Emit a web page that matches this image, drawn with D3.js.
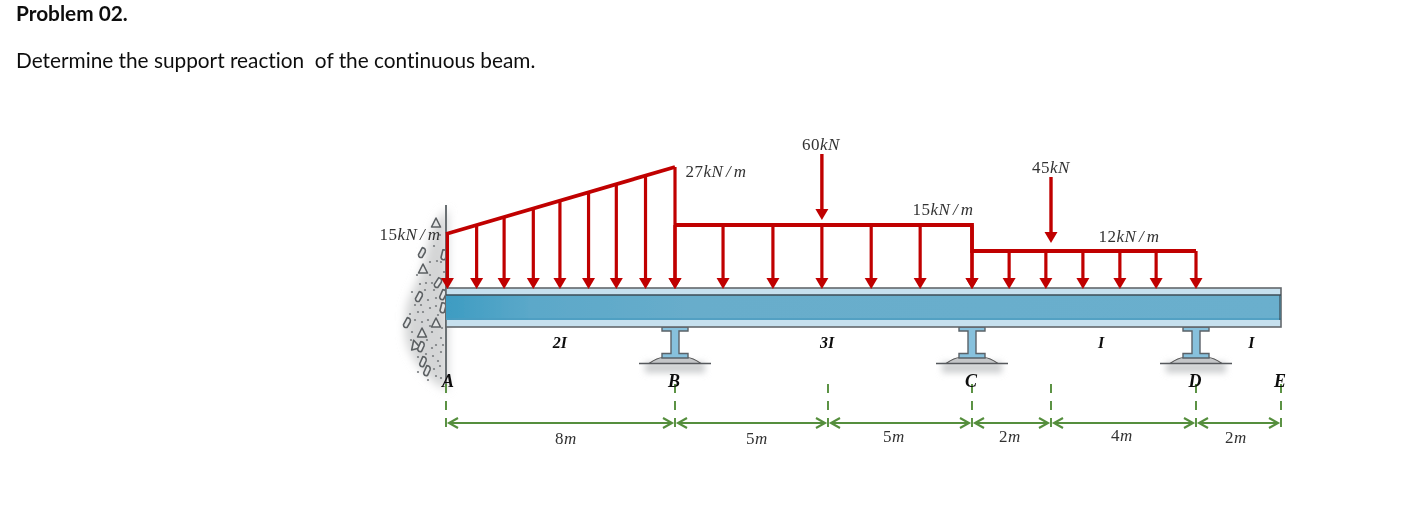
<!DOCTYPE html>
<html>
<head>
<meta charset="utf-8">
<script src="https://cdn.jsdelivr.net/npm/d3@7"></script>
<style>
	html, body { margin: 0; padding: 0; background: #fff; }
	svg { display: block; }
	.head { font-family: Lato, "Open Sans", sans-serif; fill: #111; font-variant-ligatures: none; }
	.math { font-family: "Liberation Serif", "DejaVu Serif", serif; fill: #333; font-size: 17px; letter-spacing: 0.5px; }
	.math .it { font-style: italic; }
	.sec { font-family: "Liberation Serif", serif; font-weight: bold; font-style: italic; fill: #111; font-size: 16px; }
	.sup { font-size: 18px; }
</style>
</head>
<body>
<script>
//Continuous beam diagram

	//stations along the beam, in metres
	var stations = [0, 8, 13, 18, 20, 24, 26];
	var spanLabels = ["8m", "5m", "5m", "2m", "4m", "2m"];

	//supports and free end
	var supportNames = ["A", "B", "C", "D", "E"];
	var supportAt = [0, 8, 18, 24, 26];
	var bearingAt = [8, 18, 24];

	//second moment of area per span
	var sectionLabels = ["2I", "3I", "I", "I"];
	var sectionAt = [3.98, 12.97, 21.38, 25.3];

	//distributed loads, kN/m
	var rampLoad = [15, 27];
	var rampArrows = [0.05, 1.07, 2.03, 3.05, 3.98, 4.98, 5.95, 6.97, 8];
	var midLoad = 15;
	var midArrows = [8, 9.57, 11.2, 12.8, 14.5, 16.2, 18];
	var endLoad = 12;
	var endArrows = [18, 18.94, 19.87, 20.88, 21.9, 22.9, 24];

	//point loads: station and size in kN
	var pointAt = [12.8, 20];
	var pointLoads = [60, 45];

	//Width and height
	var w = 1409;
	var h = 512;

	var red = "#c00000";
	var green = "#548e3c";
	var lineGrey = "#5a6268";

	//drawing is not to scale, so each span gets its own stretch
	var xScale = d3.scaleLinear()
		.domain(stations)
		.range([446, 675, 828, 972, 1051, 1196, 1281]);

	//height of the load lines above the beam
	var yLoad = d3.scaleLinear().domain([12, 15, 27]).range([251, 225, 167]);
	var yRamp = d3.scaleLinear().domain(rampLoad).range([234, 167]);

	var beamTop = 288;
	var beamBottom = 327;

	var svg = d3.select("body").append("svg")
		.attr("width", w)
		.attr("height", h);

	var defs = svg.append("defs");

	defs.append("filter").attr("id", "soft")
		.attr("filterUnits", "userSpaceOnUse")
		.attr("x", 0).attr("y", 0).attr("width", w).attr("height", h)
		.append("feGaussianBlur").attr("stdDeviation", 0.5);
	defs.append("filter").attr("id", "wallBlur")
		.attr("filterUnits", "userSpaceOnUse")
		.attr("x", 370).attr("y", 180).attr("width", 100).attr("height", 230)
		.append("feGaussianBlur").attr("stdDeviation", 5);
	defs.append("filter").attr("id", "shadowBlur")
		.attr("filterUnits", "userSpaceOnUse")
		.attr("x", -60).attr("y", 345).attr("width", 120).attr("height", 50)
		.append("feGaussianBlur").attr("stdDeviation", 3);

	var beamGrad = defs.append("linearGradient").attr("id", "beamGrad");
	beamGrad.append("stop").attr("offset", "0").attr("stop-color", "#3d9cc2");
	beamGrad.append("stop").attr("offset", "0.1").attr("stop-color", "#5ba8c9");
	beamGrad.append("stop").attr("offset", "0.3").attr("stop-color", "#68adcb");
	beamGrad.append("stop").attr("offset", "1").attr("stop-color", "#6aafcd");

	var root = svg.append("g").attr("filter", "url(#soft)");

	//Heading----------------------------------------------------------------------
	root.append("text").attr("class", "head")
		.attr("x", 16).attr("y", 21)
		.style("font-size", "20.8px").style("font-weight", "700")
		.text("Problem 02.");
	root.append("text").attr("class", "head")
		.attr("x", 16).attr("y", 68)
		.style("font-size", "20.8px")
		.style("white-space", "pre")
		.text("Determine the support reaction  of the continuous beam.");

	//Wall-------------------------------------------------------------------------
	var wall = root.append("g");

	wall.append("path")
		.attr("d", "M448,210 C436,214 428,240 424,262 C418,286 404,300 406,318 C402,340 410,356 422,370 C430,380 438,386 448,390 Z")
		.attr("fill", "#d4d5d6")
		.attr("filter", "url(#wallBlur)");

	//stones: x, y, turn, 0 = triangle, 1 = long pebble
	var stones = [
		[436, 223, 0, 0], [422, 253, 25, 1], [423, 269, 0, 0], [444, 255, 10, 1], [438, 283, 30, 1],
		[419, 297, 25, 1], [443, 295, 20, 1], [443, 308, 10, 1], [407, 323, 25, 1], [436, 323, 0, 0],
		[422, 333, 0, 0], [415, 345, -15, 0], [421, 347, 20, 1], [423, 362, 20, 1], [427, 371, 20, 1]
	];
	wall.selectAll("path.stone")
		.data(stones)
		.enter()
		.append("path")
		.attr("class", "stone")
		.attr("d", function(d) {
			return d[3] ? "M-2,-5 Q2,-6 2.5,-2 L2,4 Q-1,6 -2.5,3 Z" : "M0,-5 L4.5,4 L-4.5,4 Z";
		})
		.attr("transform", function(d) { return "translate(" + d[0] + "," + d[1] + ") rotate(" + d[2] + ")"; })
		.attr("fill", "#e4e5e6")
		.attr("stroke", "#5c6063")
		.attr("stroke-width", 1.6)
		.attr("stroke-linejoin", "round");

	var specks = [
		[440, 235], [434, 246], [441, 262], [430, 262], [417, 275], [430, 275], [426, 283],
		[434, 290], [412, 292], [425, 290], [415, 305], [430, 308], [423, 312], [436, 306],
		[410, 314], [428, 320], [415, 320], [432, 332], [442, 328], [427, 340], [436, 345],
		[411, 340], [433, 356], [441, 352], [418, 372], [440, 366], [428, 380], [436, 376],
		[437, 261], [444, 272], [432, 283], [420, 284], [421, 305], [438, 315], [412, 332],
		[430, 326], [441, 338], [432, 348], [426, 354], [418, 357], [438, 361], [434, 369],
		[441, 378], [422, 322], [436, 298], [428, 300], [418, 312], [443, 345]
	];
	wall.selectAll("circle")
		.data(specks)
		.enter()
		.append("circle")
		.attr("cx", function(d) { return d[0]; })
		.attr("cy", function(d) { return d[1]; })
		.attr("r", 1.1)
		.attr("fill", "#7a7d80");

	wall.append("line")
		.attr("x1", 446).attr("x2", 446)
		.attr("y1", 205).attr("y2", 386)
		.attr("stroke", "#6b6f73")
		.attr("stroke-width", 2);

	//Supports---------------------------------------------------------------------
	var bearing = root.selectAll("g.bearing")
		.data(bearingAt)
		.enter()
		.append("g")
		.attr("class", "bearing")
		.attr("transform", function(d) { return "translate(" + xScale(d) + ",0)"; });

	bearing.append("rect")
		.attr("x", -30).attr("y", 362)
		.attr("width", 60).attr("height", 11)
		.attr("fill", "#cfd0d2")
		.attr("filter", "url(#shadowBlur)");
	bearing.append("path")
		.attr("d", "M-26,363.5 C-21,360 -17,357.5 -12,357.5 L12,357.5 C17,357.5 21,360 26,363.5 Z")
		.attr("fill", "#c4c6c8")
		.attr("stroke", "#555")
		.attr("stroke-width", 1.2);
	bearing.append("path")
		.attr("d", "M-13,327 L13,327 L13,331 L4,331 L4,353.5 L13,353.5 L13,358 L-13,358 L-13,353.5 L-4,353.5 L-4,331 L-13,331 Z")
		.attr("fill", "#87c1dd")
		.attr("stroke", lineGrey)
		.attr("stroke-width", 1.4);
	bearing.append("line")
		.attr("x1", -36).attr("x2", 36)
		.attr("y1", 363.5).attr("y2", 363.5)
		.attr("stroke", "#55595c")
		.attr("stroke-width", 1.6);

	//Beam-------------------------------------------------------------------------
	var beamX = xScale(0);
	var beamW = xScale(26) - xScale(0);

	root.append("rect")
		.attr("x", beamX).attr("y", beamTop)
		.attr("width", beamW).attr("height", beamBottom - beamTop)
		.attr("fill", "#c6e0ee")
		.attr("stroke", "#63686c")
		.attr("stroke-width", 1.6);
	root.append("rect")
		.attr("x", beamX).attr("y", beamTop + 7)
		.attr("width", beamW).attr("height", 25)
		.attr("fill", "url(#beamGrad)");
	root.append("line")
		.attr("x1", beamX).attr("x2", beamX + beamW)
		.attr("y1", beamTop + 7).attr("y2", beamTop + 7)
		.attr("stroke", "#3b4c55")
		.attr("stroke-width", 1.5);
	root.append("line")
		.attr("x1", beamX).attr("x2", beamX + beamW)
		.attr("y1", beamTop + 31).attr("y2", beamTop + 31)
		.attr("stroke", "#4b9cc0")
		.attr("stroke-width", 1.5);
	root.append("line")
		.attr("x1", beamX + beamW - 1).attr("x2", beamX + beamW - 1)
		.attr("y1", beamTop + 7).attr("y2", beamTop + 32)
		.attr("stroke", "#3b4c55")
		.attr("stroke-width", 1.2);

	//Loads------------------------------------------------------------------------
	var loads = root.append("g");

	//one vertical arrow ending on the top of the beam or at a given height
	function drawArrow(x, yStart, yEnd, lw) {
		loads.append("line")
			.attr("x1", x).attr("x2", x)
			.attr("y1", yStart).attr("y2", yEnd - 8)
			.attr("stroke", red)
			.attr("stroke-width", lw);
		loads.append("path")
			.attr("d", "M" + (x - 6.5) + "," + (yEnd - 11) + " L" + (x + 6.5) + "," + (yEnd - 11) + " L" + x + "," + yEnd + " Z")
			.attr("fill", red);
	}

	var rampSlope = d3.scaleLinear().domain([0, 8]).range(rampLoad);

	rampArrows.forEach(function(d) {
		drawArrow(xScale(d), yRamp(rampSlope(d)), beamTop + 1, 3.2);
	});
	midArrows.forEach(function(d) {
		drawArrow(xScale(d), yLoad(midLoad), beamTop + 1, 3.2);
	});
	endArrows.forEach(function(d) {
		drawArrow(xScale(d), yLoad(endLoad), beamTop + 1, 3.2);
	});

	var loadLine = d3.line().x(function(d) { return d[0]; }).y(function(d) { return d[1]; });

	loads.append("path")
		.attr("d", loadLine([
			[xScale(0), yRamp(rampLoad[0])],
			[xScale(8), yRamp(rampLoad[1])]
		]))
		.attr("fill", "none").attr("stroke", red).attr("stroke-width", 3.8);
	loads.append("path")
		.attr("d", loadLine([
			[xScale(8), yLoad(midLoad)],
			[xScale(18), yLoad(midLoad)],
			[xScale(18), yLoad(endLoad)],
			[xScale(24), yLoad(endLoad)]
		]))
		.attr("fill", "none").attr("stroke", red).attr("stroke-width", 3.8);

	//point loads stop just above the load line, heights per force
	var pointTop = d3.scaleOrdinal().domain(pointLoads).range([154, 177]);
	var pointEnd = d3.scaleOrdinal().domain(pointLoads).range([220, 243]);

	pointLoads.forEach(function(d, i) {
		drawArrow(xScale(pointAt[i]), pointTop(d), pointEnd(d), 3.4);
	});

	//Dimension lines--------------------------------------------------------------
	var dims = root.append("g");
	var dimY = 423;

	stations.forEach(function(d) {
		dims.append("line")
			.attr("x1", xScale(d)).attr("x2", xScale(d))
			.attr("y1", 384).attr("y2", dimY + 6)
			.attr("stroke", green)
			.attr("stroke-width", 1.9)
			.attr("stroke-dasharray", "9,8");
	});

	d3.pairs(stations).forEach(function(p) {
		var x0 = xScale(p[0]) + 3;
		var x1 = xScale(p[1]) - 3;
		dims.append("line")
			.attr("x1", x0).attr("x2", x1)
			.attr("y1", dimY).attr("y2", dimY)
			.attr("stroke", green)
			.attr("stroke-width", 2.1);
		dims.append("path")
			.attr("d", "M" + (x0 + 9) + "," + (dimY - 5) + " L" + x0 + "," + dimY + " L" + (x0 + 9) + "," + (dimY + 5))
			.attr("fill", "none").attr("stroke", green).attr("stroke-width", 2.1);
		dims.append("path")
			.attr("d", "M" + (x1 - 9) + "," + (dimY - 5) + " L" + x1 + "," + dimY + " L" + (x1 - 9) + "," + (dimY + 5))
			.attr("fill", "none").attr("stroke", green).attr("stroke-width", 2.1);
	});

	//Labels-----------------------------------------------------------------------

	//digits stay upright, unit letters are italic, slash gets some air
	function mathLabel(str, x, y) {
		var t = root.append("text")
			.attr("class", "math")
			.attr("x", x).attr("y", y)
			.attr("text-anchor", "middle");
		str.match(/[0-9]+|\/|[^0-9\/]+/g).forEach(function(part, i, all) {
			var after = i > 0 && all[i - 1] == "/";
			t.append("tspan")
				.attr("class", /[0-9]/.test(part) ? "" : "it")
				.attr("dx", part == "/" || after ? 2.5 : 0)
				.text(part);
		});
	}

	mathLabel(rampLoad[0] + "kN/m", 410, 240);
	mathLabel(rampLoad[1] + "kN/m", 716, 177);
	mathLabel(midLoad + "kN/m", 943, 215);
	mathLabel(endLoad + "kN/m", 1129, 242);
	mathLabel(pointLoads[0] + "kN", 821, 150);
	mathLabel(pointLoads[1] + "kN", 1051, 173);

	var spanLabelX = [566, 757, 894, 1010, 1122, 1236];
	var spanLabelY = [444, 444, 442, 442, 441, 443];
	spanLabels.forEach(function(d, i) {
		mathLabel(d, spanLabelX[i], spanLabelY[i]);
	});

	sectionLabels.forEach(function(d, i) {
		root.append("text").attr("class", "sec")
			.attr("x", xScale(sectionAt[i])).attr("y", 348)
			.attr("text-anchor", "middle")
			.text(d);
	});

	supportNames.forEach(function(d, i) {
		root.append("text").attr("class", "sec sup")
			.attr("x", xScale(supportAt[i]) + (i == 0 ? 2 : -1)).attr("y", 387)
			.attr("text-anchor", "middle")
			.text(d);
	});
</script>
</body>
</html>
